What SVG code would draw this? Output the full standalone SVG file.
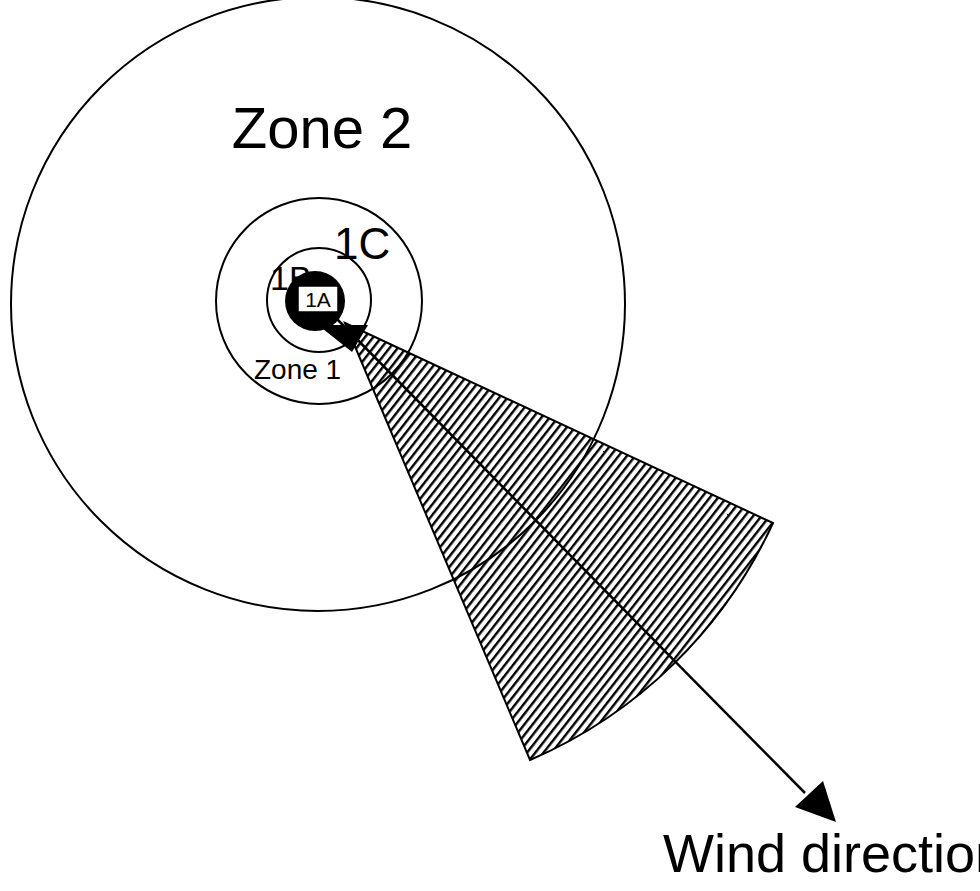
<svg xmlns="http://www.w3.org/2000/svg" width="980" height="891" viewBox="0 0 980 891">
<style>
.c{fill:none;stroke:#000;stroke-width:2}
text{font-family:"Liberation Sans",Arial,sans-serif;fill:#000}
</style>
<defs>
<pattern id="h" width="6.5" height="6.5" patternUnits="userSpaceOnUse" patternTransform="rotate(-52)">
<rect width="6.5" height="6.5" fill="#fff"/>
<rect width="6.5" height="2.4" fill="#000"/>
</pattern>
</defs>
<g id="wedge"><path d="M345 323 L773 523 A472 472 0 0 1 530 760 Z" fill="url(#h)" stroke="#000" stroke-width="2"/></g>
<g id="zone2"><circle class="c" cx="318" cy="304" r="307"/><text x="322" y="148" font-size="58" text-anchor="middle">Zone 2</text></g>
<g id="zone1c"><circle class="c" cx="319" cy="301" r="103"/><text x="334" y="259" font-size="44">1C</text></g>
<g id="zone1b"><circle class="c" cx="319" cy="300" r="52"/><text x="270" y="290" font-size="34">1B</text></g>
<g id="zone1a">
<circle cx="315" cy="301" r="30" fill="#000"/>
<path d="M318 325 L368 325 L352 352 Z" fill="#000"/>
<rect x="298" y="286" width="40" height="26" fill="#fff" stroke="#000" stroke-width="1.5"/>
<text x="318" y="307" font-size="21" text-anchor="middle">1A</text>
</g>
<text x="254" y="379" font-size="28">Zone 1</text>
<g id="connectors">
<line x1="336" y1="318" x2="805" y2="793" stroke="#000" stroke-width="2.5"/>
<polygon points="836,822 795,807 823,781" fill="#000"/>
</g>
<text x="663" y="872" font-size="54">Wind direction</text>
</svg>
